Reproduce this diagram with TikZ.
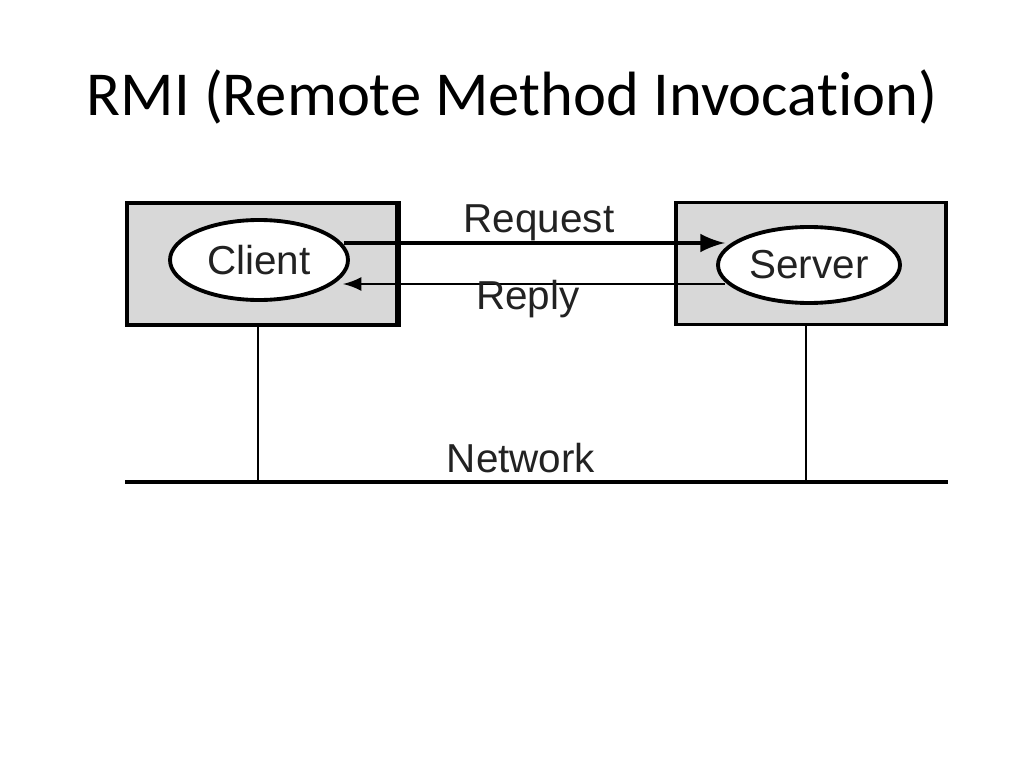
\documentclass[tikz,border=0pt]{standalone}
\usepackage{fontspec}
\setmainfont{Carlito}[Ligatures=NoCommon]
\newfontfamily\labelfont{Liberation Sans}
\usetikzlibrary{backgrounds,shapes}
\pgfdeclarelayer{boxlayer}
\pgfdeclarelayer{edgelayer}
\pgfdeclarelayer{nodelayer}
\pgfsetlayers{boxlayer,edgelayer,nodelayer,main}
\definecolor{boxgray}{RGB}{216,216,216}
\definecolor{inkgray}{RGB}{34,34,34}
\tikzset{font=\fontsize{11.5}{13}\labelfont}
\tikzstyle{none}=[inner sep=0pt]
\tikzstyle{host}=[rectangle,draw=black,fill=boxgray,line width=0.9pt,minimum width=2.7cm,minimum height=1.22cm,inner sep=0pt]
\tikzstyle{proc}=[ellipse,draw=black,fill=white,line width=1.1pt,inner sep=0pt,text=inkgray]
\tikzstyle{lbl}=[inner sep=0pt,anchor=base,text=inkgray]

\begin{document}
\begin{tikzpicture}
	\useasboundingbox (0,0) rectangle (10.24,-7.68);
	\node [inner sep=0pt,anchor=base,font=\fontsize{17.8}{21}\selectfont] (title) at (5.12,-1.15) {RMI (Remote Method Invocation)};
	\begin{pgfonlayer}{boxlayer}
		\node [style=host] (0) at (2.62,-2.64) {};
		\node [style=host] (1) at (8.11,-2.635) {};
	\end{pgfonlayer}
	\begin{pgfonlayer}{nodelayer}
		\node [style=proc, minimum width=1.78cm, minimum height=0.8cm] (2) at (2.59,-2.60) {Client};
		\node [style=proc, minimum width=1.82cm, minimum height=0.76cm] (3) at (8.09,-2.65) {Server};
		\node [style=none] (4) at (3.44,-2.43) {};
		\node [style=none] (5) at (7.25,-2.43) {};
		\node [style=none] (6) at (7.25,-2.84) {};
		\node [style=none] (7) at (3.43,-2.84) {};
		\node [style=none] (8) at (2.58,-4.82) {};
		\node [style=none] (9) at (8.06,-4.82) {};
		\node [style=none] (10) at (1.25,-4.82) {};
		\node [style=none] (11) at (9.48,-4.82) {};
		\node [style=lbl] (12) at (5.39,-2.32) {Request};
		\node [style=lbl] (13) at (5.28,-3.09) {Reply};
		\node [style=lbl] (14) at (5.21,-4.72) {Network};
	\end{pgfonlayer}
	\begin{pgfonlayer}{edgelayer}
		\draw[line width=1.3pt] (0.north east) to (0.south east);
		\draw[line width=1.4pt, -latex] (4.center) to (5.center);
		\draw[line width=0.8pt, -latex] (6.center) to (7.center);
		\draw[line width=0.6pt] (8.center) to (0.south -| 8.center);
		\draw[line width=0.6pt] (9.center) to (1.south -| 9.center);
		\draw[line width=1.4pt] (10.center) to (11.center);
	\end{pgfonlayer}
\end{tikzpicture}
\end{document}
